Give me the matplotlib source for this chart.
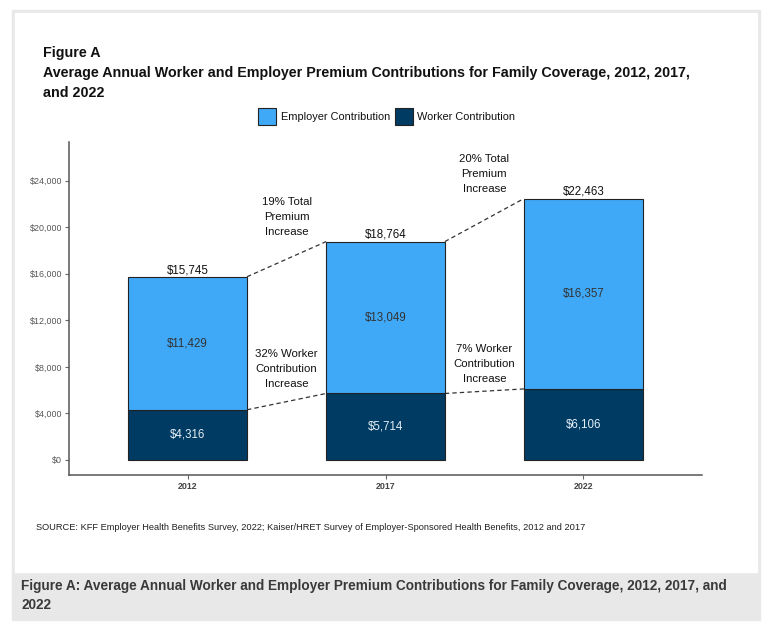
import numpy as np
import matplotlib
matplotlib.use('Agg')
import matplotlib.pyplot as plt
from matplotlib.patches import Rectangle

# data
years = ['2012', '2017', '2022']
worker = [4316, 5714, 6106]
employer = [11429, 13049, 16357]
totals = [15745, 18764, 22463]
total_notes = ['19% Total\nPremium\nIncrease', '20% Total\nPremium\nIncrease']
worker_notes = ['32% Worker\nContribution\nIncrease', '7% Worker\nContribution\nIncrease']
yticks = [0, 4000, 8000, 12000, 16000, 20000, 24000]

C_EMP = '#3FA9F8'
C_WRK = '#003B63'
plt.rcParams['font.family'] = ['Liberation Sans', 'DejaVu Sans']

W, H = 768, 627
fig = plt.figure(figsize=(W / 100, H / 100), dpi=100)

def fx(x): return x / W
def fy(y): return 1 - y / H

# page frame: grey border, white panel, grey caption strip
fig.patches.append(Rectangle((fx(12), fy(620)), fx(760) - fx(12), fy(10) - fy(620),
                             transform=fig.transFigure, color='#e8e8e8', zorder=-2))
fig.patches.append(Rectangle((fx(15), fy(572)), fx(757) - fx(15), fy(13) - fy(572),
                             transform=fig.transFigure, color='white', zorder=-1))

ax = fig.add_axes([fx(69), fy(475), fx(702) - fx(69), fy(142) - fy(475)])
ax.set_zorder(2)
ax.set_facecolor('none')
x = np.arange(1, len(years) + 1)
bw = 0.6
ax.bar(x, worker, bw, color=C_WRK, edgecolor='#222222', lw=0.8, zorder=3)
ax.bar(x, employer, bw, bottom=worker, color=C_EMP, edgecolor='#222222', lw=0.8, zorder=3)

for i in range(len(years)):
    ax.text(x[i], worker[i] / 2, f'${worker[i]:,}', ha='center', va='center',
            fontsize=8.3, color='#e6eef5', zorder=4)
    ax.text(x[i], worker[i] + employer[i] / 2, f'${employer[i]:,}', ha='center',
            va='center', fontsize=8.3, color='#333333', zorder=4)
    ax.text(x[i], totals[i] + 60, f'${totals[i]:,}', ha='center', va='bottom',
            fontsize=8.3, color='#111111', zorder=4)

# dashed connectors between bars
for i in range(len(years) - 1):
    ax.plot([x[i] + bw / 2, x[i + 1] - bw / 2], [totals[i], totals[i + 1]],
            ls=(0, (3.5, 2.5)), color='#333333', lw=0.9, zorder=2)
    ax.plot([x[i] + bw / 2, x[i + 1] - bw / 2], [worker[i], worker[i + 1]],
            ls=(0, (3.5, 2.5)), color='#333333', lw=0.9, zorder=2)

note_tot_y = [20876, 24570]
note_wrk_y = [7818, 8247]
for i in range(2):
    ax.text(x[i] + 0.5, note_tot_y[i], total_notes[i], ha='center', va='center',
            fontsize=8.2, color='#111111', linespacing=1.62)
    ax.text(x[i] + 0.5, note_wrk_y[i], worker_notes[i], ha='center', va='center',
            fontsize=8.2, color='#111111', linespacing=1.62)

ax.set_xlim(0.4, 3.6)
ax.set_ylim(-1290, 27320)
ax.set_yticks(yticks)
ax.set_yticklabels([f'${v:,}' for v in yticks], fontsize=6.4, color='#555555')
ax.set_xticks(x)
ax.set_xticklabels(years, fontsize=6.4, color='#444444', fontweight='bold')
ax.tick_params(axis='both', length=3, width=0.8, color='#666666', pad=2)
for s in ['top', 'right']:
    ax.spines[s].set_visible(False)
for s in ['left', 'bottom']:
    ax.spines[s].set_color('#555555')
    ax.spines[s].set_linewidth(1.1)

# titles
title_kw = dict(fontsize=10.3, fontweight='bold', color='#111111', va='baseline')
fig.text(fx(43), fy(57), 'Figure A', **title_kw)
fig.text(fx(43), fy(77), 'Average Annual Worker and Employer Premium Contributions for Family Coverage, 2012, 2017,',
         **title_kw)
fig.text(fx(43), fy(97), 'and 2022', **title_kw)

# legend drawn by hand to sit exactly under the title
for (x0, lab, c, tx) in [(258, 'Employer Contribution', C_EMP, 281),
                         (395, 'Worker Contribution', C_WRK, 417)]:
    fig.patches.append(Rectangle((fx(x0), fy(125)), fx(18), 17 / H, transform=fig.transFigure,
                                 facecolor=c, edgecolor='#222222', lw=0.8))
    fig.text(fx(tx), fy(117), lab, fontsize=7.9, color='#111111', va='center')

fig.text(fx(36), fy(528), 'SOURCE: KFF Employer Health Benefits Survey, 2022; Kaiser/HRET Survey of Employer-Sponsored Health Benefits, 2012 and 2017',
         fontsize=6.7, color='#222222', va='center')

cap_kw = dict(fontsize=9.8, fontweight='bold', color='#3a3a3a', va='baseline')
fig.text(fx(21), fy(590), 'Figure A: Average Annual Worker and Employer Premium Contributions for Family Coverage, 2012, 2017, and',
         **cap_kw)
fig.text(fx(21), fy(609), '2022', **cap_kw)

fig.savefig('out.png', dpi=100)
